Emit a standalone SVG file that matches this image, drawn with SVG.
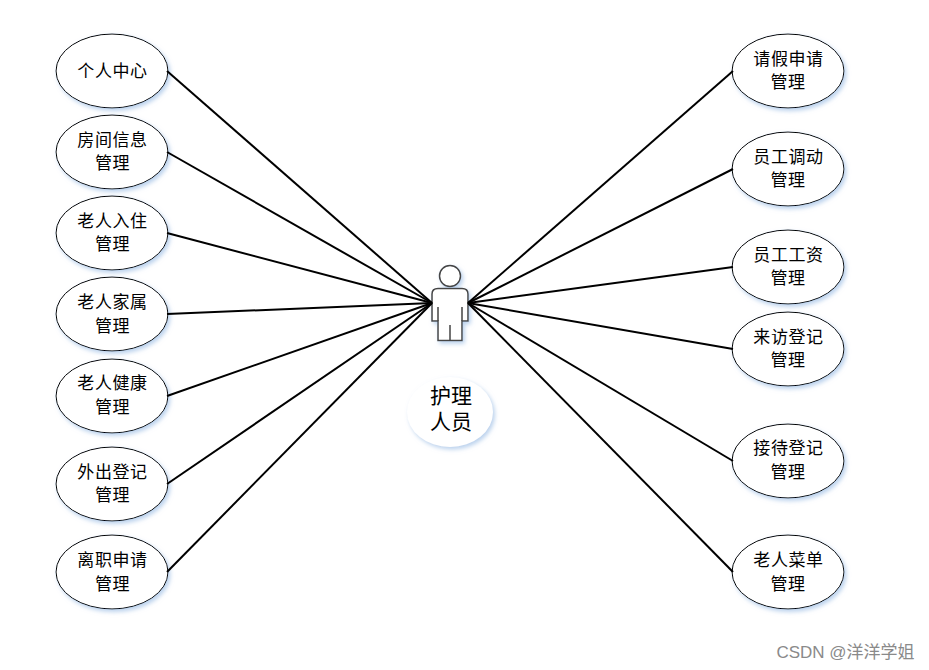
<svg xmlns="http://www.w3.org/2000/svg" width="929" height="670" viewBox="0 0 929 670">
<style>
text{font-family:"Liberation Sans","Noto Sans CJK SC",sans-serif;fill:#000;text-anchor:middle}
.t{font-size:17px;letter-spacing:.6px}
.e{fill:#fff;stroke:#000;stroke-width:1}
.c line{stroke:#000;stroke-width:2;fill:none}
.a{fill:#fff;stroke:#444;stroke-width:1.5}
</style>
<defs>
<filter id="s" x="-20%" y="-20%" width="140%" height="140%"><feDropShadow dx="2" dy="2.5" stdDeviation="2" flood-color="#a9c6e8" flood-opacity=".8"/></filter>
</defs>
<rect width="929" height="670" fill="#fff"/>
<g id="n1"><ellipse class="e" filter="url(#s)" cx="112" cy="71" rx="56" ry="37"/><text class="t" x="112.500" y="77">个人中心</text></g>
<g id="n2"><ellipse class="e" filter="url(#s)" cx="112" cy="152" rx="56" ry="37"/><text class="t" x="112.500" y="146">房间信息</text><text class="t" x="112.500" y="169">管理</text></g>
<g id="n3"><ellipse class="e" filter="url(#s)" cx="112" cy="233" rx="56" ry="37"/><text class="t" x="112.500" y="227">老人入住</text><text class="t" x="112.500" y="250">管理</text></g>
<g id="n4"><ellipse class="e" filter="url(#s)" cx="112" cy="314" rx="56" ry="37"/><text class="t" x="112.500" y="308">老人家属</text><text class="t" x="112.500" y="332">管理</text></g>
<g id="n5"><ellipse class="e" filter="url(#s)" cx="112" cy="396" rx="56" ry="37"/><text class="t" x="112.500" y="389">老人健康</text><text class="t" x="112.500" y="413">管理</text></g>
<g id="n6"><ellipse class="e" filter="url(#s)" cx="112" cy="484" rx="56" ry="37"/><text class="t" x="112.500" y="478">外出登记</text><text class="t" x="112.500" y="501">管理</text></g>
<g id="n7"><ellipse class="e" filter="url(#s)" cx="112" cy="572" rx="56" ry="37"/><text class="t" x="112.500" y="566">离职申请</text><text class="t" x="112.500" y="590">管理</text></g>
<g id="n8"><ellipse class="e" filter="url(#s)" cx="788" cy="71" rx="56" ry="37"/><text class="t" x="788.500" y="65">请假申请</text><text class="t" x="788" y="88">管理</text></g>
<g id="n9"><ellipse class="e" filter="url(#s)" cx="788" cy="169" rx="56" ry="37"/><text class="t" x="788.500" y="163">员工调动</text><text class="t" x="788" y="186">管理</text></g>
<g id="n10"><ellipse class="e" filter="url(#s)" cx="788" cy="267" rx="56" ry="37"/><text class="t" x="788.500" y="261">员工工资</text><text class="t" x="788" y="284">管理</text></g>
<g id="n11"><ellipse class="e" filter="url(#s)" cx="788" cy="349" rx="56" ry="37"/><text class="t" x="788.500" y="343">来访登记</text><text class="t" x="788" y="366">管理</text></g>
<g id="n12"><ellipse class="e" filter="url(#s)" cx="788" cy="461" rx="56" ry="37"/><text class="t" x="788.500" y="454">接待登记</text><text class="t" x="788" y="478">管理</text></g>
<g id="n13"><ellipse class="e" filter="url(#s)" cx="788" cy="572" rx="56" ry="37"/><text class="t" x="788.500" y="566">老人菜单</text><text class="t" x="788" y="590">管理</text></g>
<g id="actor">
<g filter="url(#s)">
<circle class="a" cx="450" cy="276" r="10.5"/>
<path class="a" d="M438 340.500V321H432V294Q432 288.500 438 288.500H462Q468 288.500 468 294V321H462V340.500Z"/>
<path class="a" d="M438 307V321M462 307V321M450 325V340.500" fill="none"/>
</g>
</g>
<g id="connectors" class="c">
<line x1="167" y1="71" x2="432" y2="303"/>
<line x1="167" y1="152" x2="432" y2="303"/>
<line x1="167" y1="233" x2="432" y2="303"/>
<line x1="167" y1="314" x2="432" y2="303"/>
<line x1="167" y1="396" x2="432" y2="303"/>
<line x1="167" y1="484" x2="432" y2="303"/>
<line x1="167" y1="572" x2="432" y2="303"/>
<line x1="733" y1="71" x2="468" y2="303"/>
<line x1="733" y1="169" x2="468" y2="303"/>
<line x1="733" y1="267" x2="468" y2="303"/>
<line x1="733" y1="349" x2="468" y2="303"/>
<line x1="733" y1="461" x2="468" y2="303"/>
<line x1="733" y1="572" x2="468" y2="303"/>
</g>
<g id="label">
<ellipse cx="450" cy="412" rx="43" ry="35" fill="#fff" filter="url(#s)"/>
<text x="451" y="403" font-size="21">护理</text>
<text x="451" y="429" font-size="21">人员</text>
</g>
<text x="845.500" y="658" font-size="17" style="fill:#8a8a8a">CSDN @洋洋学姐</text>
</svg>
